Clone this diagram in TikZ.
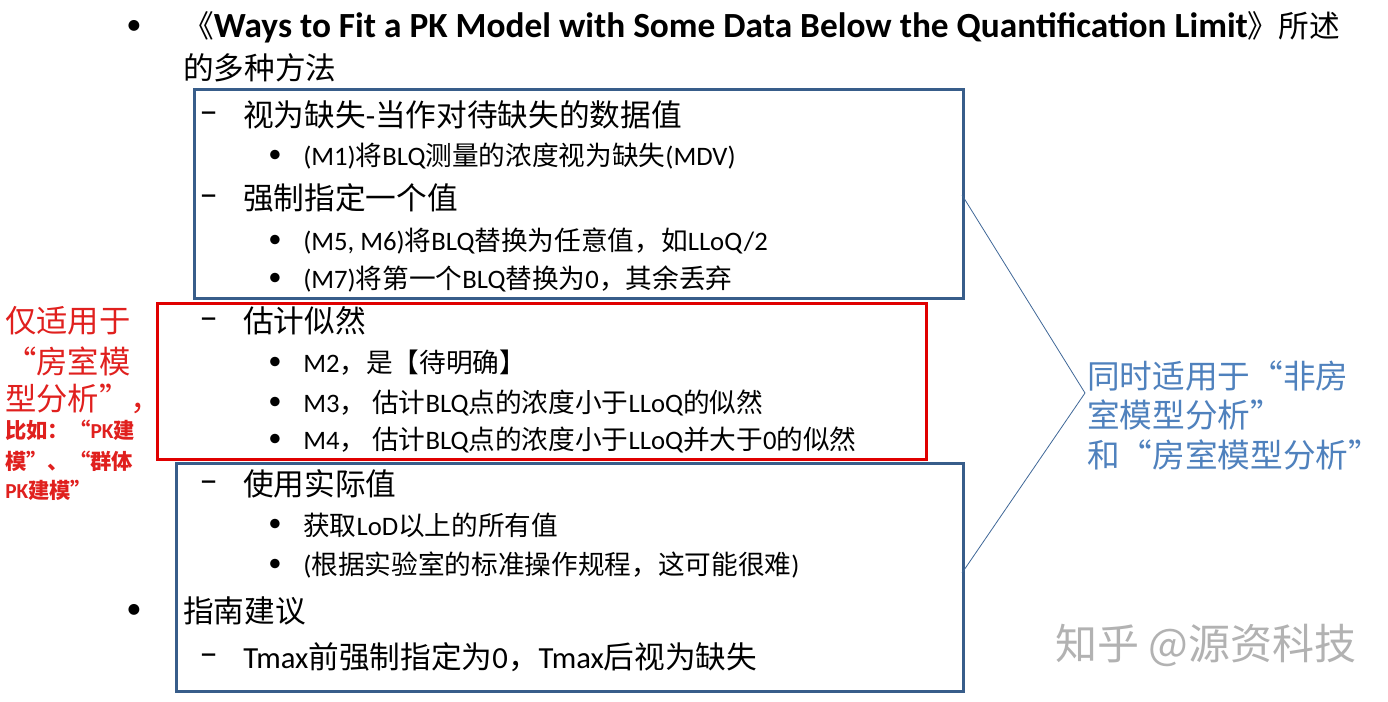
\documentclass[tikz,border=0pt]{standalone}
\usepackage{fontspec}
\setmainfont{Carlito}
\newfontfamily\cjkfont{Noto Sans CJK SC}
\newfontfamily\latinfont{Carlito}
\makeatletter
\XeTeXinterchartokenstate=1
\newXeTeXintercharclass\cjkclass
\count@="4E00 \loop\XeTeXcharclass\count@=\cjkclass\ifnum\count@<"9FFF\advance\count@ 1\repeat
\count@="3000 \loop\XeTeXcharclass\count@=\cjkclass\ifnum\count@<"303F\advance\count@ 1\repeat
\count@="FF00 \loop\XeTeXcharclass\count@=\cjkclass\ifnum\count@<"FF60\advance\count@ 1\repeat
\XeTeXcharclass"201C=\cjkclass \XeTeXcharclass"201D=\cjkclass
\makeatother
\XeTeXinterchartoks 0 \cjkclass={\cjkfont}
\XeTeXinterchartoks \cjkclass 0={\latinfont}
\definecolor{boxblue}{HTML}{385D8A}
\definecolor{boxred}{HTML}{E00000}
\definecolor{txtred}{HTML}{E0201E}
\definecolor{txtblue}{HTML}{4F81BD}
\begin{document}
\begin{tikzpicture}[x=0.75pt,y=-0.75pt,
  every node/.style={inner sep=0pt,anchor=west},
  lone/.style={font=\latinfont\fontsize{23}{27}\selectfont},
  ltwo/.style={font=\latinfont\fontsize{20}{24}\selectfont},
  bluebox/.style={draw=boxblue,line width=2.2pt},
  redbox/.style={draw=boxred,line width=2.2pt},
  rtxt/.style={text=txtred,font=\cjkfont\fontsize{23.5}{27}\selectfont},
  rsm/.style={text=txtred,font=\cjkfont\bfseries\fontsize{16}{19}\selectfont},
  btxt/.style={text=txtblue,font=\cjkfont\fontsize{24.5}{30}\selectfont},
  link/.style={draw=txtblue!80!black,line width=0.6pt}]
\useasboundingbox (0,0) rectangle (1388,702);
\node[bluebox,anchor=north west,minimum width=769*0.75pt,minimum height=209*0.75pt] (b1) at (193,88) {};
\node[redbox,anchor=north west,minimum width=769*0.75pt,minimum height=156*0.75pt] (b2) at (156,302) {};
\node[bluebox,anchor=north west,minimum width=787*0.75pt,minimum height=228*0.75pt] (b3) at (175,462) {};
% level 1
\node[lone] (u1) at (126,27) {•};
\node[lone] (t1) at (183,27) {\cjkfont 《\textbf{\latinfont\fontsize{26.5}{30}\selectfont Ways to Fit a PK Model with Some Data Below the Quantification Limit}》所述};
\node[lone] (t2) at (183,68) {\cjkfont 的多种方法};
\node[lone] (u2) at (126,611) {•};
\node[lone] (t3) at (183,611) {\cjkfont 指南建议};
% dashes
\foreach \y/\n in {118/d1,201/d2,324/d3,487/d4,660/d5}{\node[lone] (\n) at (199,\y) {\fontsize{28}{30}\selectfont –};}
\node[lone] (a1) at (243,115) {\cjkfont 视为缺失-当作对待缺失的数据值};
\node[lone] (a2) at (243,198) {\cjkfont 强制指定一个值};
\node[lone] (a3) at (243,321) {\cjkfont 估计似然};
\node[lone] (a4) at (243,484) {\cjkfont 使用实际值};
\node[lone] (a5) at (243,657) {Tmax前强制指定为0，Tmax后视为缺失};
% level 2
\foreach \y/\n in {156/e1,241/e2,279/e3,363/e4,403/e5,440/e6,525/e7,565/e8}{\node[ltwo] (\n) at (268,\y) {•};}
\node[ltwo] (s1) at (303,156) {(M1)将BLQ测量的浓度视为缺失(MDV)};
\node[ltwo] (s2) at (303,241) {(M5, M6)将BLQ替换为任意值，如LLoQ/2};
\node[ltwo] (s3) at (303,279) {(M7)将第一个BLQ替换为0，其余丢弃};
\node[ltwo] (s4) at (303,363) {M2，是【待明确】};
\node[ltwo] (s5) at (303,403) {M3， 估计BLQ点的浓度小于LLoQ的似然};
\node[ltwo] (s6) at (303,440) {M4， 估计BLQ点的浓度小于LLoQ并大于0的似然};
\node[ltwo] (s7) at (303,525) {\cjkfont 获取LoD以上的所有值};
\node[ltwo] (s8) at (303,565) {(根据实验室的标准操作规程，这可能很难)};
% left red note
\node[rtxt] (r1) at (5,321) {仅适用于};
\node[rtxt] (r2) at (5,361) {“房室模};
\node[rtxt] (r3) at (5,399) {型分析”，};
\node[rsm] (r4) at (5,430) {比如：“PK建};
\node[rsm] (r5) at (5,461) {模”、“群体};
\node[rsm] (r6) at (5,490) {\latinfont PK建模”};
% right blue note
\node[btxt] (q1) at (1087,376) {同时适用于“非房};
\node[btxt] (q2) at (1087,415) {室模型分析”};
\node[btxt] (q3) at (1087,455) {和“房室模型分析”};
\coordinate (apex) at (1085,393);
\draw[link] (962,195) -- (apex) -- (962,573);
\node[text=black!30,font=\cjkfont\fontsize{31.5}{35}\selectfont] (wm) at (1055,645) {知乎 @源资科技};
\end{tikzpicture}
\end{document}
